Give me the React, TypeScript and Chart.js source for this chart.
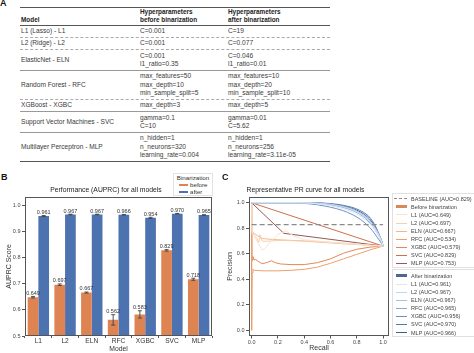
import React, { useEffect, useRef } from 'react';
import { Chart, registerables } from 'chart.js';

Chart.register(...registerables);

const FONT = '"Liberation Sans", Arial, Helvetica, sans-serif';
Chart.defaults.font.family = FONT;

// ---------------- Panel A: hyperparameter table ----------------
const tableHeaderModel = 'Model';
const tableHeaderBefore = ['Hyperparameters', 'before binarization'];
const tableHeaderAfter = ['Hyperparameters', 'after binarization'];
const tableModels = [
  'L1 (Lasso) - L1',
  'L2 (Ridge) - L2',
  'ElasticNet - ELN',
  'Random Forest - RFC',
  'XGBoost - XGBC',
  'Support Vector Machines - SVC',
  'Multilayer Perceptron - MLP',
];
const hpBefore = [
  ['C=0.001'],
  ['C=0.001'],
  ['C=0.001', 'l1_ratio=0.35'],
  ['max_features=50', 'max_depth=10', 'min_sample_split=5'],
  ['max_depth=3'],
  ['gamma=0.1', 'C=10'],
  ['n_hidden=1', 'n_neurons=320', 'learning_rate=0.004'],
];
const hpAfter = [
  ['C=19'],
  ['C=0.077'],
  ['C=0.046', 'l1_ratio=0.01'],
  ['max_features=10', 'max_depth=20', 'min_sample_split=10'],
  ['max_depth=5'],
  ['gamma=0.01', 'C=5.62'],
  ['n_hidden=1', 'n_neurons=256', 'learning_rate=3.11e-05'],
];
const rowRules = ['dashed', 'dashed', 'solid', 'dashed', 'solid', 'solid', 'thick'];

// ---------------- Panel B: AUPRC bars ----------------
const titleB = 'Performance (AUPRC) for all models';
const models = ['L1', 'L2', 'ELN', 'RFC', 'XGBC', 'SVC', 'MLP'];
const aucBefore = [0.649, 0.697, 0.667, 0.562, 0.583, 0.829, 0.718];
const aucAfter = [0.961, 0.967, 0.967, 0.966, 0.954, 0.970, 0.965];
const errBefore = [0.003, 0.003, 0.002, 0.02, 0.014, 0.003, 0.004];
const errAfter = [0.002, 0.001, 0.001, 0.001, 0.002, 0.001, 0.001];
const yTicksB = [0.5, 0.6, 0.7, 0.8, 0.9, 1.0];
const hueLabels = ['before', 'after'];
const barColors = ['#DD8452', '#4C72B0'];

// ---------------- Panel C: PR curves ----------------
const titleC = 'Representative PR curve for all models';
const prLabels = ['L1', 'L2', 'ELN', 'RFC', 'XGBC', 'SVC', 'MLP'];
const aucBeforePR = [0.649, 0.697, 0.667, 0.534, 0.579, 0.829, 0.753];
const aucAfterPR = [0.961, 0.967, 0.967, 0.965, 0.956, 0.970, 0.966];
const baselineAUC = 0.829;
const baselineRecall = [0, 1];
const ticksC = [0, 0.2, 0.4, 0.6, 0.8, 1.0];
const beforeColors = ['#fbe2cf', '#f7cdaa', '#f2b88a', '#eca06c', '#e28855', '#cc6f4c', '#935b57'];
const afterColors = ['#dce7f4', '#c3d5ec', '#a7c1e1', '#8aa9d2', '#6e90c0', '#5678ad', '#3f5e96'];

// [recall, precision]
const prBeforeL1 = [[0, 1], [0.004, 0.76], [0.02, 0.74], [0.05, 0.68], [0.08, 0.63], [0.1, 0.64], [0.15, 0.7], [0.2, 0.75], [0.26, 0.78], [0.32, 0.74], [0.4, 0.71], [0.5, 0.7], [0.6, 0.69], [0.7, 0.683], [0.8, 0.675], [0.9, 0.666], [1, 0.66]];
const prBeforeL2 = [[0, 1], [0.004, 0.775], [0.02, 0.745], [0.04, 0.72], [0.055, 0.69], [0.063, 0.75], [0.08, 0.7], [0.1, 0.698], [0.15, 0.7], [0.2, 0.705], [0.3, 0.703], [0.4, 0.7], [0.5, 0.695], [0.6, 0.69], [0.7, 0.683], [0.8, 0.676], [0.9, 0.668], [1, 0.66]];
const prBeforeELN = [[0, 1], [0.004, 0.77], [0.02, 0.76], [0.04, 0.745], [0.06, 0.73], [0.08, 0.72], [0.12, 0.715], [0.2, 0.71], [0.3, 0.705], [0.4, 0.7], [0.5, 0.692], [0.6, 0.685], [0.7, 0.678], [0.8, 0.672], [0.9, 0.666], [1, 0.66]];
const prBeforeRFC = [[0, 1], [0, 0], [0.004, 0.45], [0.01, 0.478], [0.02, 0.47], [0.05, 0.468], [0.1, 0.466], [0.2, 0.466], [0.3, 0.47], [0.4, 0.478], [0.5, 0.495], [0.6, 0.525], [0.7, 0.56], [0.8, 0.595], [0.9, 0.63], [1, 0.66]];
const prBeforeXGBC = [[0, 1], [0.003, 0.55], [0.01, 0.578], [0.02, 0.55], [0.03, 0.556], [0.05, 0.54], [0.08, 0.522], [0.12, 0.532], [0.15, 0.545], [0.18, 0.53], [0.22, 0.52], [0.3, 0.515], [0.4, 0.515], [0.5, 0.53], [0.6, 0.56], [0.7, 0.605], [0.8, 0.635], [0.9, 0.652], [1, 0.66]];
const prBeforeSVC = [[0, 1], [1, 0.66]];
const prBeforeMLP = [[0, 1], [0.245, 0.76], [1, 0.66]];

const prAfterL1 = [[0, 1], [0.35, 1], [0.45, 0.996], [0.55, 0.985], [0.64, 0.968], [0.72, 0.945], [0.79, 0.915], [0.85, 0.878], [0.9, 0.835], [0.94, 0.785], [0.97, 0.735], [0.99, 0.69], [1, 0.66]];
const prAfterL2 = [[0, 1], [0.4, 1], [0.5, 0.996], [0.6, 0.987], [0.68, 0.972], [0.76, 0.948], [0.82, 0.918], [0.87, 0.882], [0.91, 0.84], [0.945, 0.79], [0.972, 0.738], [0.99, 0.692], [1, 0.66]];
const prAfterELN = [[0, 1], [0.4, 1], [0.5, 0.997], [0.6, 0.988], [0.69, 0.972], [0.77, 0.949], [0.83, 0.918], [0.875, 0.884], [0.915, 0.84], [0.948, 0.79], [0.974, 0.738], [0.99, 0.693], [1, 0.66]];
const prAfterRFC = [[0, 1], [0.38, 1], [0.48, 0.996], [0.58, 0.986], [0.67, 0.97], [0.75, 0.946], [0.815, 0.915], [0.865, 0.878], [0.905, 0.835], [0.94, 0.785], [0.97, 0.735], [0.99, 0.69], [1, 0.66]];
const prAfterXGBC = [[0, 1], [0.3, 1], [0.4, 0.995], [0.5, 0.984], [0.6, 0.965], [0.69, 0.94], [0.77, 0.905], [0.83, 0.868], [0.88, 0.825], [0.92, 0.78], [0.955, 0.73], [0.985, 0.685], [1, 0.66]];
const prAfterSVC = [[0, 1], [0.45, 1], [0.55, 0.997], [0.65, 0.988], [0.72, 0.975], [0.79, 0.955], [0.85, 0.925], [0.89, 0.895], [0.92, 0.855], [0.95, 0.8], [0.975, 0.74], [0.99, 0.7], [1, 0.66]];
const prAfterMLP = [[0, 1], [0.42, 1], [0.52, 0.997], [0.62, 0.988], [0.7, 0.973], [0.78, 0.95], [0.84, 0.92], [0.88, 0.89], [0.915, 0.85], [0.945, 0.8], [0.97, 0.745], [0.99, 0.695], [1, 0.66]];

const prBefore = [prBeforeL1, prBeforeL2, prBeforeELN, prBeforeRFC, prBeforeXGBC, prBeforeSVC, prBeforeMLP];
const prAfter = [prAfterL1, prAfterL2, prAfterELN, prAfterRFC, prAfterXGBC, prAfterSVC, prAfterMLP];

const FRAME = '#555';
const TICKC = '#444';

const framePlugin = {
  id: 'frame',
  afterDraw(chart: any) {
    const { ctx, chartArea } = chart;
    const l = Math.round(chartArea.left) + 0.5;
    const t = Math.round(chartArea.top) + 0.5;
    const r = Math.round(chartArea.right) - 0.5;
    const b = Math.round(chartArea.bottom) - 0.5;
    ctx.save();
    ctx.strokeStyle = FRAME;
    ctx.lineWidth = 1;
    ctx.strokeRect(l, t, r - l, b - t);
    ctx.restore();
  },
};

const barExtrasPlugin = {
  id: 'barExtras',
  afterDatasetsDraw(chart: any) {
    const { ctx } = chart;
    const y = chart.scales.y;
    const groups = [
      [aucBefore, errBefore],
      [aucAfter, errAfter],
    ];
    ctx.save();
    groups.forEach(([vals, errs], di) => {
      const meta = chart.getDatasetMeta(di);
      meta.data.forEach((bar: any, i: number) => {
        const x = bar.x;
        const top = y.getPixelForValue(vals[i] + errs[i]);
        const bot = y.getPixelForValue(vals[i] - errs[i]);
        ctx.strokeStyle = '#444';
        ctx.lineWidth = 0.9;
        ctx.beginPath();
        ctx.moveTo(x, top);
        ctx.lineTo(x, bot);
        ctx.moveTo(x - 2, top);
        ctx.lineTo(x + 2, top);
        ctx.moveTo(x - 2, bot);
        ctx.lineTo(x + 2, bot);
        ctx.stroke();
      });
    });
    groups.forEach(([vals, errs], di) => {
      const meta = chart.getDatasetMeta(di);
      meta.data.forEach((bar: any, i: number) => {
        const top = y.getPixelForValue(vals[i] + errs[i]);
        ctx.fillStyle = '#333';
        ctx.font = `5.5px ${FONT}`;
        ctx.textAlign = 'center';
        ctx.textBaseline = 'bottom';
        ctx.fillText(vals[i].toFixed(3), bar.x, top - 0.3);
      });
    });
    ctx.restore();
  },
};

function axisCommon(fontSize: number) {
  return {
    grid: { display: true, drawOnChartArea: false, drawTicks: true, tickLength: 3, color: FRAME, lineWidth: 1 },
    border: { display: false },
    ticks: { color: TICKC, font: { size: fontSize }, padding: 1.5 },
  };
}

function configB(): any {
  return {
    type: 'bar',
    data: {
      labels: models,
      datasets: [
        { label: hueLabels[0], data: aucBefore, backgroundColor: barColors[0], categoryPercentage: 0.8, barPercentage: 1.0 },
        { label: hueLabels[1], data: aucAfter, backgroundColor: barColors[1], categoryPercentage: 0.8, barPercentage: 1.0 },
      ],
    },
    options: {
      responsive: false,
      animation: false,
      maintainAspectRatio: false,
      layout: { padding: { left: 0, right: 3, top: 0, bottom: 0 } },
      plugins: {
        legend: { display: false },
        tooltip: { enabled: false },
        title: { display: true, text: titleB, color: '#222', font: { size: 6.8, weight: 'normal' }, padding: { top: 3, bottom: 2.6 } },
      },
      scales: {
        x: {
          ...axisCommon(6.6),
          grid: { display: true, drawOnChartArea: false, drawTicks: true, tickLength: 2, color: FRAME },
          ticks: { color: '#333', font: { size: 6.6 }, padding: -1 },
          title: { display: true, text: 'Model', color: '#333', font: { size: 6.8 }, padding: { top: 0, bottom: 0.3 } },
          afterFit: (s: any) => { s.height = 17; },
        },
        y: {
          ...axisCommon(5.5),
          min: 0.5,
          max: 1.035,
          afterBuildTicks: (s: any) => { s.ticks = yTicksB.map((v) => ({ value: v })); },
          ticks: { color: TICKC, font: { size: 5.5 }, padding: 1.5, callback: (v: any) => Number(v).toFixed(1) },
          title: { display: true, text: 'AUPRC Score', color: '#333', font: { size: 7 }, padding: { top: 4.5, bottom: 0 } },
          afterFit: (s: any) => { s.width = 25; },
        },
      },
    },
    plugins: [barExtrasPlugin, framePlugin],
  };
}

function toXY(pts: number[][]) {
  return pts.map(([x, y]) => ({ x, y }));
}

function configC(): any {
  const datasets: any[] = [
    {
      label: 'BASELINE',
      data: baselineRecall.map((r) => ({ x: r, y: baselineAUC })),
      borderColor: '#8a8a8a',
      borderWidth: 1.3,
      borderDash: [5, 3],
      order: 0,
    },
  ];
  prAfter.forEach((pts, i) => {
    datasets.push({
      label: 'after ' + prLabels[i],
      data: toXY(pts),
      borderColor: afterColors[i],
      borderWidth: 1,
      cubicInterpolationMode: 'monotone',
      order: 1,
    });
  });
  prBefore.forEach((pts, i) => {
    datasets.push({
      label: 'before ' + prLabels[i],
      data: toXY(pts),
      borderColor: beforeColors[i],
      borderWidth: 1,
      tension: 0,
      order: 2,
    });
  });
  return {
    type: 'scatter',
    data: { datasets },
    options: {
      responsive: false,
      animation: false,
      maintainAspectRatio: false,
      showLine: true,
      elements: { point: { radius: 0 }, line: { fill: false } },
      layout: { padding: { left: 0, right: 3, top: 0, bottom: 0 } },
      plugins: {
        legend: { display: false },
        tooltip: { enabled: false },
        title: { display: true, text: titleC, color: '#222', font: { size: 6.8, weight: 'normal' }, padding: { top: 3, bottom: 2.6 } },
      },
      scales: {
        x: {
          type: 'linear',
          ...axisCommon(5.5),
          min: -0.02,
          max: 1.045,
          afterBuildTicks: (s: any) => { s.ticks = ticksC.map((v) => ({ value: v })); },
          grid: { display: true, drawOnChartArea: false, drawTicks: true, tickLength: 2.5, color: FRAME },
          ticks: { color: TICKC, font: { size: 5.5 }, padding: 0.5, callback: (v: any) => Number(v).toFixed(1) },
          title: { display: true, text: 'Recall', color: '#333', font: { size: 7 }, padding: { top: 0, bottom: 0.8 } },
          afterFit: (s: any) => { s.height = 17; },
        },
        y: {
          type: 'linear',
          ...axisCommon(5.5),
          min: -0.045,
          max: 1.047,
          afterBuildTicks: (s: any) => { s.ticks = ticksC.map((v) => ({ value: v })); },
          ticks: { color: TICKC, font: { size: 5.5 }, padding: 1.5, callback: (v: any) => Number(v).toFixed(1) },
          title: { display: true, text: 'Precision', color: '#333', font: { size: 7 }, padding: { top: 3.5, bottom: 0 } },
          afterFit: (s: any) => { s.width = 27; },
        },
      },
    },
    plugins: [framePlugin],
  };
}

function ruleStyle(kind: string) {
  if (kind === 'dashed') return '1px dashed #aaa';
  if (kind === 'solid') return '1px solid #999';
  return '1.5px solid #555';
}

function Table() {
  return (
    <div style={{ position: 'absolute', left: 20, top: 7, width: 310, fontSize: 6.6, lineHeight: '8.35px', color: '#3a3a3a' }}>
      <div style={{ position: 'relative', height: 16.5, borderTop: '1.5px solid #555', borderBottom: '1.5px solid #555', fontWeight: 'bold', color: '#222', fontSize: 6.4 }}>
        <div style={{ position: 'absolute', left: 1, bottom: 0 }}>{tableHeaderModel}</div>
        <div style={{ position: 'absolute', left: 120, bottom: 0 }}>
          {tableHeaderBefore.map((t) => (<div key={t}>{t}</div>))}
        </div>
        <div style={{ position: 'absolute', left: 208, bottom: 0 }}>
          {tableHeaderAfter.map((t) => (<div key={t}>{t}</div>))}
        </div>
      </div>
      {tableModels.map((m, i) => (
        <div key={m} style={{ display: 'flex', padding: '1.5px 0', borderBottom: ruleStyle(rowRules[i]) }}>
          <div style={{ width: 119, paddingLeft: 1, display: 'flex', alignItems: 'center' }}>{m}</div>
          <div style={{ width: 88 }}>{hpBefore[i].map((t) => (<div key={t}>{t}</div>))}</div>
          <div style={{ flex: 1 }}>{hpAfter[i].map((t) => (<div key={t}>{t}</div>))}</div>
        </div>
      ))}
    </div>
  );
}

function LegendB() {
  return (
    <div style={{ position: 'absolute', left: 173, top: 173, width: 40, height: 23, background: '#fff', border: '0.6px solid #e2e2e2', boxSizing: 'border-box', fontSize: 6.2, color: '#333', lineHeight: '6.8px' }}>
      <div style={{ textAlign: 'center', marginTop: 1 }}>Binarization</div>
      {hueLabels.map((h, i) => (
        <div key={h} style={{ position: 'relative', height: 6.8 }}>
          <div style={{ position: 'absolute', left: 5, top: 2.6, width: 9, height: 2, background: barColors[i] }} />
          <div style={{ position: 'absolute', left: 16, top: 0 }}>{h}</div>
        </div>
      ))}
    </div>
  );
}

function LegendC() {
  const row = 8.1;
  const item = (key: string, text: string, handle: any) => (
    <div key={key} style={{ position: 'relative', height: row }}>
      {handle}
      <div style={{ position: 'absolute', left: 18, top: 0, whiteSpace: 'nowrap' }}>{text}</div>
    </div>
  );
  const line = (color: string) => (
    <div style={{ position: 'absolute', left: 3, top: 3.6, width: 11, height: 1, background: color }} />
  );
  const patch = (color: string) => (
    <div style={{ position: 'absolute', left: 3, top: 2.6, width: 11, height: 3, background: color }} />
  );
  const base = { position: 'absolute' as const, left: 392, width: 90, fontSize: 5.5, lineHeight: `${row}px`, color: '#444', background: '#fff', border: '0.6px solid #e0e0e0', boxSizing: 'border-box' as const };
  return (
    <>
      <div style={{ ...base, top: 193, height: 75, paddingTop: 0.7 }}>
        {item('baseline', `BASELINE (AUC=${baselineAUC.toFixed(3)})`, (
          <div style={{ position: 'absolute', left: 1, top: 3.4, width: 13, height: 0, borderTop: '1.3px dashed #8a8a8a' }} />
        ))}
        {item('bh', 'Before binarization', patch('#d9885a'))}
        {prLabels.map((l, i) => item('b' + l, `${l} (AUC=${aucBeforePR[i].toFixed(3)})`, line(beforeColors[i])))}
      </div>
      <div style={{ ...base, top: 269, height: 68, paddingTop: 1.9 }}>
        {item('ah', 'After binarization', patch('#4a6796'))}
        {prLabels.map((l, i) => item('a' + l, `${l} (AUC=${aucAfterPR[i].toFixed(3)})`, line(afterColors[i])))}
      </div>
    </>
  );
}

export default function App() {
  const bRef = useRef<HTMLCanvasElement>(null);
  const cRef = useRef<HTMLCanvasElement>(null);
  useEffect(() => {
    const b = new Chart(bRef.current as HTMLCanvasElement, configB());
    const c = new Chart(cRef.current as HTMLCanvasElement, configC());
    return () => {
      b.destroy();
      c.destroy();
    };
  }, []);
  const panelLabel = (t: string, left: number, top: number) => (
    <div style={{ position: 'absolute', left, top, fontSize: 9, fontWeight: 'bold', lineHeight: '9px', color: '#111' }}>{t}</div>
  );
  return (
    <div style={{ position: 'absolute', left: 0, top: 0, width: 474, height: 353, overflow: 'hidden', background: '#fff', fontFamily: FONT }}>
      {panelLabel('A', 0, -1)}
      <Table />
      {panelLabel('B', 1, 173)}
      <canvas ref={bRef} width={215} height={170} style={{ position: 'absolute', left: 0, top: 183, width: 215, height: 170 }} />
      <LegendB />
      {panelLabel('C', 222, 173)}
      <canvas ref={cRef} width={170} height={170} style={{ position: 'absolute', left: 222, top: 183, width: 170, height: 170 }} />
      <LegendC />
    </div>
  );
}
